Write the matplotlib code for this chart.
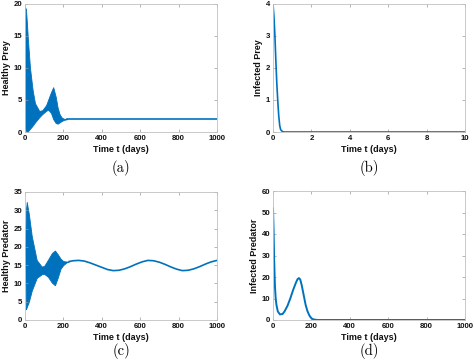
import matplotlib
matplotlib.use("Agg")
import matplotlib.pyplot as plt

# ---------------- data ----------------
# (a) Healthy prey: oscillation band envelope, then settled line
a_band_t = [0, 5, 10, 15, 26, 40, 52, 74, 90, 110, 120, 135, 147, 160, 170, 180, 190, 200, 210, 220]
a_band_hi = [19.5, 19.2, 17.0, 14.5, 10.0, 6.5, 4.5, 3.3, 3.4, 4.2, 5.0, 6.2, 7.0, 5.5, 3.8, 2.8, 2.3, 2.1, 2.05, 2.0]
a_band_lo = [0.5, 0.2, 0.0, 0.1, 0.5, 1.0, 1.5, 2.3, 2.8, 3.3, 3.5, 3.0, 2.0, 1.4, 1.3, 1.5, 1.7, 1.85, 1.95, 2.0]
a_line_t = [220, 1000]
a_line_y = [2.0, 2.0]

# (b) Infected prey
b_t = [0, 0.05, 0.1, 0.15, 0.2, 0.25, 0.3, 0.35, 0.4, 0.5, 0.6, 10]
b_y = [4.0, 3.6, 3.0, 2.2, 1.5, 0.95, 0.5, 0.2, 0.07, 0.01, 0.0, 0.0]

# (c) Healthy predator: band envelope, then slow oscillation
c_band_t = [0, 5, 9, 20, 35, 61, 87, 100, 120, 140, 156, 170, 185, 199, 215, 230]
c_band_hi = [20, 30, 32.3, 29, 23, 16.4, 14.6, 14.8, 16.5, 18.3, 19.0, 18.0, 16.8, 16.1, 16.0, 16.0]
c_band_lo = [20, 3.0, 3.5, 5.0, 8.0, 11.5, 12.5, 12.6, 11.8, 10.2, 9.5, 11.5, 14.0, 15.0, 15.7, 16.0]
c_line_t = [230, 250, 280, 310, 340, 370, 400, 430, 460, 490, 520, 550, 580, 610, 640,
            670, 700, 730, 760, 790, 820, 850, 880, 910, 940, 970, 1000]
c_line_y = [16.0, 16.2, 16.3, 16.1, 15.6, 15.0, 14.4, 13.8, 13.5, 13.6, 14.0, 14.6, 15.3, 15.9, 16.3,
            16.2, 15.8, 15.2, 14.5, 13.9, 13.5, 13.6, 14.0, 14.6, 15.3, 15.9, 16.3]

# (d) Infected predator
d_t = [0, 3, 6, 10, 14, 18, 25, 36, 50, 60, 75, 90, 105, 120, 128, 135, 142, 150, 160, 170, 180, 190, 200, 210, 230, 1000]
d_y = [52, 42, 28, 16, 10, 7, 4, 2.6, 2.8, 4.0, 6.5, 10, 14, 17.5, 19, 19.5, 18.8, 16, 11.5, 7, 4, 2, 0.8, 0.3, 0.0, 0.0]

labels_y = ["Healthy Prey", "Infected Prey", "Healthy Predator", "Infected Predator"]
xlabel = "Time t (days)"
panel_tags = ["(a)", "(b)", "(c)", "(d)"]

# ---------------- figure ----------------
W, H = 474, 364
fig = plt.figure(figsize=(W / 100, H / 100), dpi=100)
blue = "#0072BD"
fam = ["Liberation Sans", "DejaVu Sans"]

def ax_at(l, t, r, b):
    return fig.add_axes([l / W, 1 - b / H, (r - l) / W, (b - t) / H])

axA = ax_at(25, 4, 217, 132)
axB = ax_at(273, 4, 465, 132)
axC = ax_at(25, 192, 217, 320)
axD = ax_at(273, 191, 465, 320)

axA.fill_between(a_band_t, a_band_lo, a_band_hi, color=blue, lw=0.6, edgecolor=blue)
axA.plot(a_line_t, a_line_y, color=blue, lw=1.2)
axA.set_xlim(0, 1000); axA.set_ylim(0, 20)
axA.set_xticks(range(0, 1001, 200)); axA.set_yticks(range(0, 21, 5))

axB.plot(b_t, b_y, color=blue, lw=1.2)
axB.set_xlim(0, 10); axB.set_ylim(0, 4)
axB.set_xticks(range(0, 11, 2)); axB.set_yticks(range(0, 5))

axC.fill_between(c_band_t, c_band_lo, c_band_hi, color=blue, lw=0.6, edgecolor=blue)
axC.plot(c_line_t, c_line_y, color=blue, lw=1.2)
axC.set_xlim(0, 1000); axC.set_ylim(0, 35)
axC.set_xticks(range(0, 1001, 200)); axC.set_yticks(range(0, 36, 5))

axD.plot(d_t, d_y, color=blue, lw=1.4)
axD.set_xlim(0, 1000); axD.set_ylim(0, 60)
axD.set_xticks(range(0, 1001, 200)); axD.set_yticks(range(0, 61, 10))

for ax, yl in zip([axA, axB, axC, axD], labels_y):
    for s in ax.spines.values():
        s.set_color("#c0c0c0"); s.set_linewidth(0.6)
    ax.tick_params(direction="in", length=2.2, width=0.5, color="#999999",
                   top=True, right=True, labelsize=5.6, pad=2, labelcolor="#111111")
    for lab in ax.get_xticklabels() + ax.get_yticklabels():
        lab.set_fontweight("bold"); lab.set_family(fam)
    ax.set_xlabel(xlabel, fontsize=6.5, fontweight="bold", family=fam, labelpad=2, color="#111111")
    ax.set_ylabel(yl, fontsize=6.5, fontweight="bold", family=fam, labelpad=2, color="#111111")

for (x, y), tag in zip([(121, 168), (369, 168), (121, 351), (369, 351)], panel_tags):
    fig.text(x / W, 1 - y / H, tag, ha="center", va="center", fontsize=10.5, family="cmr10")

fig.savefig("out.png", dpi=100)
